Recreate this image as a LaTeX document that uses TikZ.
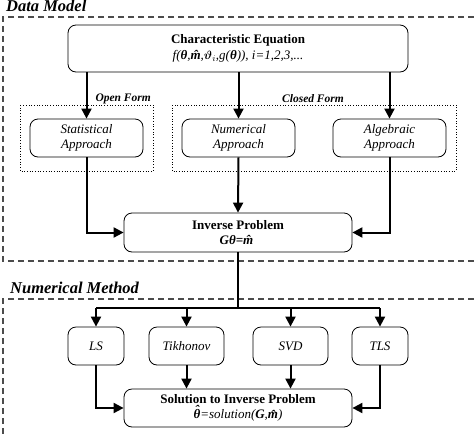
\documentclass[tikz,border=0pt]{standalone}
\usepackage{amsmath}
\usepackage{fontspec}
\setmainfont{Liberation Serif}
\usetikzlibrary{arrows.meta,calc}
\newcommand\hatsym[2]{\leavevmode\ooalign{#1\cr\hidewidth\raisebox{#2}{ˆ}\hidewidth\cr}}
\begin{document}
\begin{tikzpicture}[x=1pt,y=-1pt,
  rbox/.style={draw,rounded corners=8pt,line width=0.8pt,align=center,inner sep=0pt,font=\fontsize{13}{14.5}\selectfont},
  ibox/.style={rbox,font=\fontsize{13}{15.5}\selectfont\itshape},
  arr/.style={line width=2pt,-{Triangle[width=10pt,length=10pt]}},
  conn/.style={line width=2pt},
  dotbox/.style={draw,dotted,line width=0.7pt},
  dashline/.style={draw,gray!60!black,line width=1.3pt,dash pattern=on 6pt off 4pt},
  sect/.style={font=\fontsize{16.5}{18}\selectfont\bfseries\itshape,anchor=west,inner sep=0pt},
  formlab/.style={font=\fontsize{11.5}{12}\selectfont\bfseries\itshape,inner sep=0pt}]
\useasboundingbox (0,0) rectangle (474,437);
% section frames
\draw[dashline] (474,17) -- (3,17) -- (3,261) -- (474,261);
\draw[dashline] (474,299) -- (3,299) -- (3,437);
\node[sect] (dm) at (6,6) {Data Model};
\node[sect] (nm) at (10,288) {Numerical Method};
% dotted form boxes
\draw[dotbox] (20,105) rectangle (153,171);
\draw[dotbox] (172,105) rectangle (456,171);
\node[formlab,anchor=east] (of) at (151,99) {Open Form};
\node[formlab] (cf) at (313,99) {Closed Form};
% main nodes
\node[rbox,minimum width=340pt,minimum height=47pt] (ce) at (238,48.5)
  {\textbf{Characteristic Equation}\\[1pt]
   \textit{f(\textbf{θ},\textbf{\^{m}},$\boldsymbol{\vartheta}_i$,g(\textbf{θ})), i=1,2,3,...}};
\node[ibox,minimum width=113pt,minimum height=38pt] (stat) at (86.5,138) {Statistical\\Approach};
\node[ibox,minimum width=113pt,minimum height=38pt] (num) at (238.5,138) {Numerical\\Approach};
\node[ibox,minimum width=113pt,minimum height=38pt] (alg) at (389.5,138) {Algebraic\\Approach};
\node[rbox,minimum width=228pt,minimum height=39pt] (inv) at (238,232.5)
  {\textbf{Inverse Problem}\\[1pt]\textbf{\textit{Gθ=\^{m}}}};
\coordinate (br) at (238,308);
\node[ibox,minimum width=56pt,minimum height=38pt] (ls) at (96,346) {LS};
\node[ibox,minimum width=75pt,minimum height=38pt] (tik) at (186.5,346) {Tikhonov};
\node[ibox,minimum width=75pt,minimum height=38pt] (svd) at (290.5,346) {SVD};
\node[ibox,minimum width=56pt,minimum height=38pt] (tls) at (380,346) {TLS};
\node[rbox,minimum width=228pt,minimum height=38pt] (sol) at (238,408)
  {\textbf{Solution to Inverse Problem}\\[1pt]\textbf{\textit{\hatsym{θ}{0.3em}}}\textit{=solution(\textbf{G},\textbf{\^{m}})}};
% connectors
\draw[arr] (ce.south -| stat.north) -- (stat.north);
\draw[arr] (ce.south -| num.north) -- (num.north);
\draw[arr] (ce.south -| alg.north) -- (alg.north);
\draw[arr] (stat.south) |- (inv.west);
\draw[arr] (num.south) -- (inv.north);
\draw[arr] (alg.south) |- (inv.east);
\draw[conn] (inv.south) -- (br);
\draw[conn] (br -| ls.north) -- (br -| tls.north);
\draw[arr] (br -| ls.north) -- (ls.north);
\draw[arr] (br -| tik.north) -- (tik.north);
\draw[arr] (br -| svd.north) -- (svd.north);
\draw[arr] (br -| tls.north) -- (tls.north);
\draw[arr] (ls.south) |- (sol.west);
\draw[arr] (tik.south) -- (tik.south |- sol.north);
\draw[arr] (svd.south) -- (svd.south |- sol.north);
\draw[arr] (tls.south) |- (sol.east);
\end{tikzpicture}
\end{document}
